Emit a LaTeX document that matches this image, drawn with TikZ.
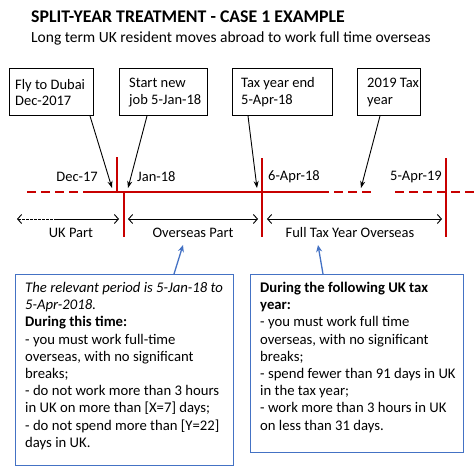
\documentclass[tikz,border=0pt]{standalone}
\usepackage{fontspec}
\setmainfont{Carlito}
\usetikzlibrary{arrows.meta}
\definecolor{tlred}{HTML}{C80000}
\definecolor{boxblue}{HTML}{4472C4}
\begin{document}
\begin{tikzpicture}[x=1pt,y=-1pt,
  ubox/.style={draw=black, line width=0.9pt, anchor=north west, inner sep=0pt, minimum height=47pt},
  utext/.style={anchor=west, inner sep=0pt, align=left, font=\fontsize{14.5}{16.7}\selectfont},
  bbox/.style={draw=boxblue, line width=1.3pt, anchor=north west, inner sep=0pt},
  btext/.style={anchor=north west, inner sep=0pt, align=left, font=\fontsize{14.7}{17.2}\selectfont},
  lbl/.style={font=\fontsize{14.5}{16}\selectfont, inner sep=0pt},
  redl/.style={draw=tlred, line width=1.5pt},
  reddash/.style={draw=tlred, line width=1.5pt, dash pattern=on 9pt off 5pt},
  pointer/.style={draw=black, line width=0.9pt, -{Stealth[length=7pt,width=5pt]}},
  span/.style={draw=black, line width=0.9pt},
  mybarb/.tip={Straight Barb[length=4pt,width=9pt,line width=0.9pt]},
  bluearrow/.style={draw=boxblue, line width=1.3pt, -{Stealth[length=7pt,width=6pt]}}
]
\useasboundingbox (0,0) rectangle (474,476);

% titles
\node[anchor=base west, inner sep=0pt, font=\bfseries\fontsize{17.8}{20}\selectfont] (title) at (31,22.7) {SPLIT-YEAR TREATMENT - CASE 1 EXAMPLE};
\node[anchor=base west, inner sep=0pt, font=\fontsize{15.5}{18}\selectfont] (sub) at (31,42.7) {Long term UK resident moves abroad to work full time overseas};

% upper boxes
\node[ubox, minimum width=84pt] (b1) at (9,68) {};
\node[ubox, minimum width=88pt] (b2) at (119,68) {};
\node[ubox, minimum width=100pt] (b3) at (232,68) {};
\node[ubox, minimum width=63pt] (b4) at (357,68) {};
\node[utext] (b1t) at ([xshift=6pt,yshift=-0.5pt]b1.west) {Fly to Dubai\\Dec-2017};
\node[utext] (b2t) at ([xshift=10pt,yshift=-0.5pt]b2.west) {Start new\\job 5-Jan-18};
\node[utext] (b3t) at ([xshift=9pt,yshift=-0.5pt]b3.west) {Tax year end\\5-Apr-18};
\node[utext] (b4t) at ([xshift=10pt,yshift=-0.5pt]b4.west) {2019 Tax\\year};

% timeline coordinates
\coordinate (t0) at (27,192);
\coordinate (t1) at (90,192);
\coordinate (t2) at (320,192);
\coordinate (t3) at (373,192);
\coordinate (t4) at (395,192);
\coordinate (t5) at (474,192);
\draw[reddash] (t0) -- (t1);
\draw[redl] (t1) -- (t2);
\draw[reddash] (t2) -- (t3);
\draw[reddash] (t4) -- (t5);

% red verticals
\coordinate (v1a) at (117,157); \coordinate (v1b) at (117,192);
\coordinate (v1c) at (124,192); \coordinate (v1d) at (124,237);
\coordinate (v2a) at (262,158); \coordinate (v2b) at (262,237);
\coordinate (v3a) at (446,158); \coordinate (v3b) at (446,237);
\draw[redl] (v1a) -- (v1b);
\draw[redl] (v1c) -- (v1d);
\draw[redl] (v2a) -- (v2b);
\draw[redl] (v3a) -- (v3b);

% date labels
\node[lbl, anchor=east] (d1) at (98,177) {Dec-17};
\node[lbl, anchor=west] (d2) at (137,177) {Jan-18};
\node[lbl, anchor=west] (d3) at (268,177) {6-Apr-18};
\node[lbl, anchor=west] (d4) at (390,177) {5-Apr-19};

% pointers from boxes
\coordinate (p1) at (112,188);
\coordinate (p2) at (128,188);
\coordinate (p3) at (257,188);
\coordinate (p4) at (361,188);
\draw[pointer] ([xshift=81pt]b1.south west) -- (p1);
\draw[pointer] ([xshift=28pt]b2.south west) -- (p2);
\draw[pointer] ([xshift=16pt]b3.south west) -- (p3);
\draw[pointer] ([xshift=23pt]b4.south west) -- (p4);

% span arrows
\coordinate (u0) at (17,219);
\coordinate (u1) at (55,219);
\coordinate (u2) at (119,219);
\coordinate (o1) at (128,219);
\coordinate (o2) at (258,219);
\coordinate (f1) at (267,219);
\coordinate (f2) at (442,219);
\draw[span, dash pattern=on 2.5pt off 1.5pt, {mybarb}-] (u0) -- (u1);
\draw[span, -{mybarb}] (u1) -- (u2);
\draw[span, {mybarb}-{mybarb}] (o1) -- (o2);
\draw[span, {mybarb}-{mybarb}] (f1) -- (f2);

\node[lbl] (ukp) at (71,233) {UK Part};
\node[lbl] (osp) at (193,233) {Overseas Part};
\node[lbl] (fty) at (350,233) {Full Tax Year Overseas};

% lower boxes
\node[bbox, minimum width=218pt, minimum height=191pt] (lb) at (15,274) {};
\node[bbox, minimum width=213pt, minimum height=178pt] (rb) at (250,274) {};

\node[btext] (lt) at (25,282) {\textit{The relevant period is 5-Jan-18 to}\\
\textit{5-Apr-2018.}\\
\textbf{During this time:}\\
- you must work full-time\\
overseas, with no significant\\
breaks;\\
- do not work more than 3 hours\\
in UK on more than [X=7] days;\\
- do not spend more than [Y=22]\\
days in UK.};

\node[btext] (rt) at (260,282) {\textbf{During the following UK tax}\\
\textbf{year:}\\
- you must work full time\\
overseas, with no significant\\
breaks;\\
- spend fewer than 91 days in UK\\
in the tax year;\\
- work more than 3 hours in UK\\
on less than 31 days.};

\coordinate (ba1) at (183,245);
\coordinate (ba2) at (318,245);
\draw[bluearrow] ([xshift=159pt]lb.north west) -- (ba1);
\draw[bluearrow] ([xshift=73pt]rb.north west) -- (ba2);
\end{tikzpicture}
\end{document}
